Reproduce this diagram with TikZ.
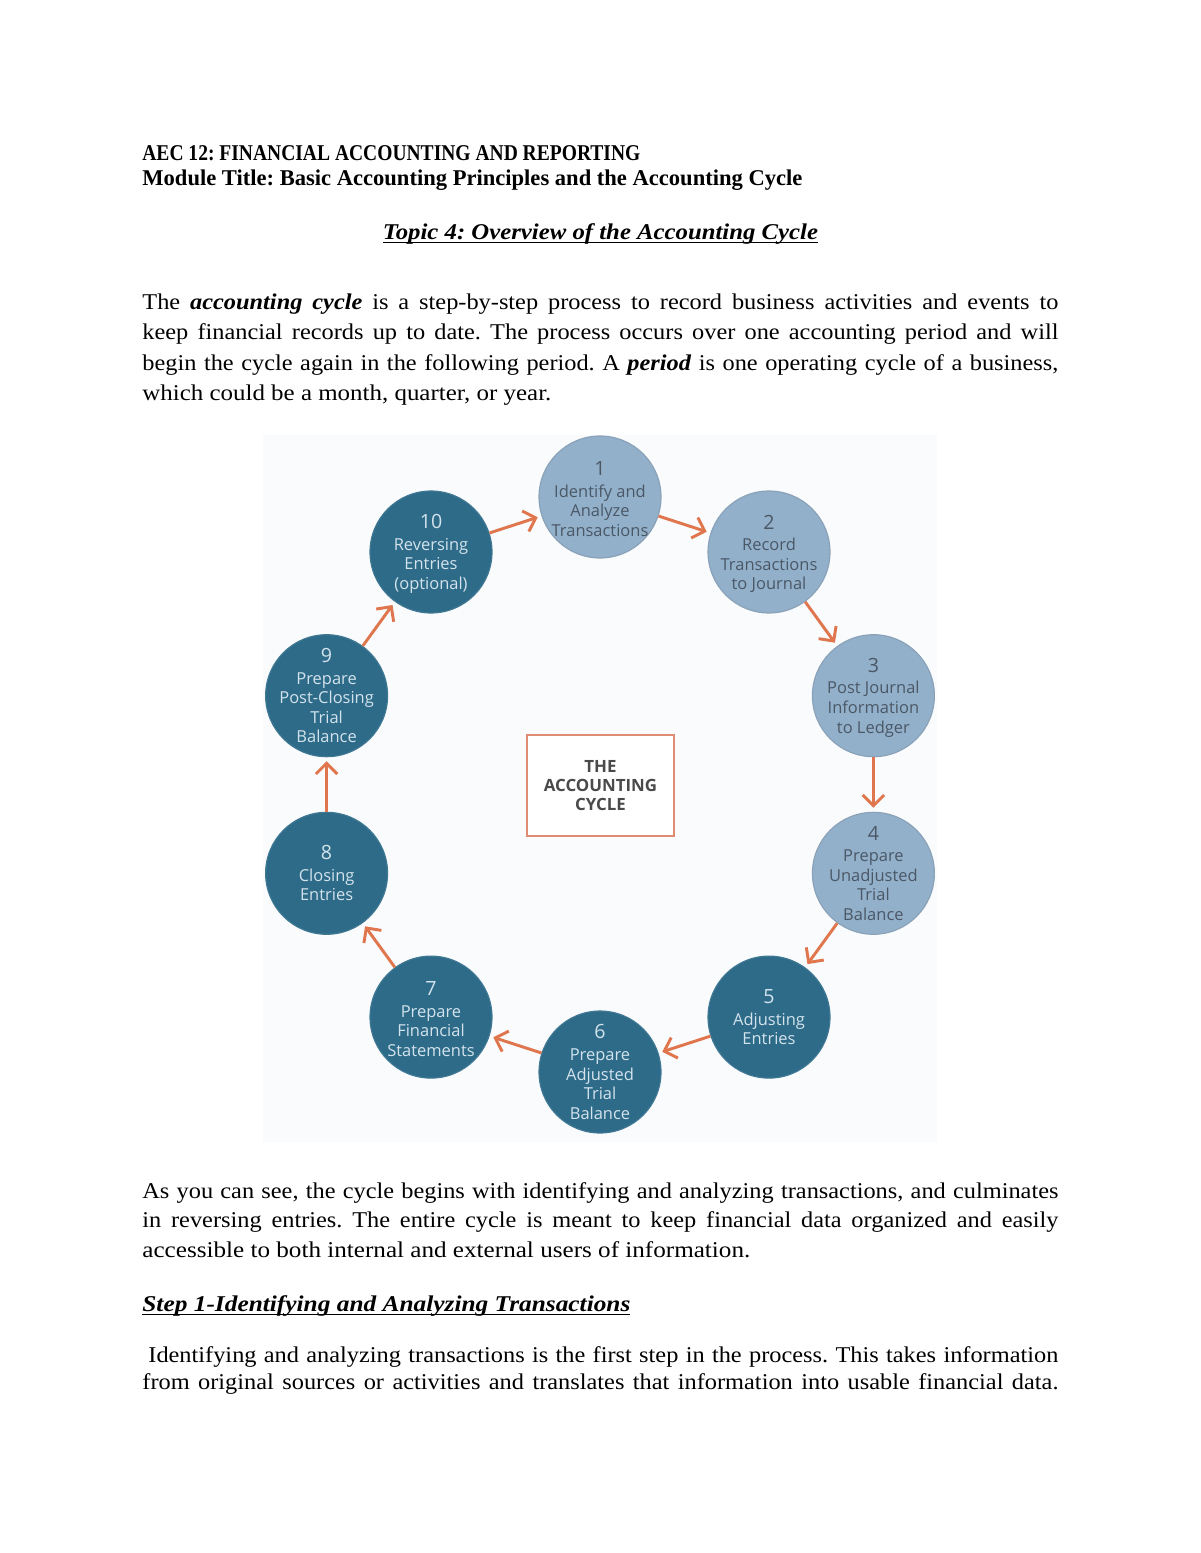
\documentclass[tikz,border=0pt]{standalone}
\usepackage{fontspec}
\setmainfont[FakeStretch=1.08]{Liberation Serif}
\newfontfamily\diagfont{Open Sans}
\usetikzlibrary{arrows.meta}
\definecolor{lightfill}{HTML}{93B0CB}
\definecolor{lightdraw}{HTML}{8AA2B8}
\definecolor{lighttext}{HTML}{4A5866}
\definecolor{darkfill}{HTML}{2E6B89}
\definecolor{darkdraw}{HTML}{3F7893}
\definecolor{darktext}{HTML}{D3E3EC}
\definecolor{arrowc}{HTML}{E0764E}
\definecolor{boxc}{HTML}{E08C72}
\definecolor{boxtext}{HTML}{4A4A4A}
\definecolor{diagbg}{HTML}{FAFBFD}
\newcommand\bodysize{\fontsize{11.5}{14}\selectfont\frenchspacing}
\newcommand\jline[1]{\makebox[467.2pt][s]{#1}}
\newcommand\fitline[2]{\resizebox{#1}{\height}{#2}}
\newcommand\myul[1]{\setbox0\hbox{#1}\rlap{\rule[-2.2pt]{\wd0}{0.7pt}}\box0}
\newcommand\num[1]{{\fontsize{10}{10}\selectfont #1}\\[1pt]}
\begin{document}
\begin{tikzpicture}[x=0.51pt,y=-0.51pt,
  txtline/.style={anchor=base west,inner sep=0pt,font=\bodysize},
  stepcircle/.style={circle,minimum size=62.2pt,inner sep=0pt,line width=0.6pt},
  lightstep/.style={stepcircle,fill=lightfill,draw=lightdraw},
  darkstep/.style={stepcircle,fill=darkfill,draw=darkdraw},
  steptext/.style={align=center,font=\diagfont\fontsize{8.4}{10}\selectfont,inner sep=0pt},
  lighttxt/.style={steptext,text=lighttext},
  darktxt/.style={steptext,text=darktext},
  flow/.style={draw=arrowc,line width=1.5pt,-{Straight Barb[length=5.5pt,width=11pt,line width=1.5pt]},shorten >=2pt}]
\useasboundingbox[fill=white] (0,0) rectangle (1200,1553);

% header
\node[txtline,font=\bodysize\bfseries] (h1) at (142,161) {\fitline{254pt}{AEC 12: FINANCIAL ACCOUNTING AND REPORTING}};
\node[txtline,font=\bodysize\bfseries] (h2) at (142,186) {\fitline{336.6pt}{Module Title: Basic Accounting Principles and the Accounting Cycle}};
\node[anchor=base,inner sep=0pt,font=\bodysize\bfseries\itshape] (topic) at (600.5,239) {\myul{\fitline{221.9pt}{Topic 4: Overview of the Accounting Cycle}}};

% paragraph 1
\node[txtline] (p1a) at (142,309) {\jline{The \textbf{\textit{accounting cycle}} is a step-by-step process to record business activities and events to}};
\node[txtline] (p1b) at (142,339) {\jline{keep financial records up to date. The process occurs over one accounting period and will}};
\node[txtline] (p1c) at (142,370) {\jline{begin the cycle again in the following period. A \textbf{\textit{period}} is one operating cycle of a business,}};
\node[txtline] (p1d) at (142,400) {\fitline{208.6pt}{which could be a month, quarter, or year.}};

% diagram background
\fill[diagbg] (263,435) rectangle (937,1142);

% steps
\node[lightstep] (s1) at (600,497) {};
\node[lightstep] (s2) at (769,552) {};
\node[lightstep] (s3) at (873.4,695.7) {};
\node[lightstep] (s4) at (873.4,873.3) {};
\node[darkstep] (s5) at (769,1017.1) {};
\node[darkstep] (s6) at (600,1072) {};
\node[darkstep] (s7) at (431,1017.1) {};
\node[darkstep] (s8) at (326.6,873.3) {};
\node[darkstep] (s9) at (326.6,695.7) {};
\node[darkstep] (s10) at (431,552) {};

\node[lighttxt] (t1) at ([yshift=-1pt]s1) {\num{1}Identify and\\Analyze\\Transactions};
\node[lighttxt] (t2) at ([yshift=-1pt]s2) {\num{2}Record\\Transactions\\to Journal};
\node[lighttxt] (t3) at ([yshift=-1pt]s3) {\num{3}Post Journal\\Information\\to Ledger};
\node[lighttxt] (t4) at (s4) {\num{4}Prepare\\Unadjusted\\Trial\\Balance};
\node[darktxt] (t5) at (s5) {\num{5}Adjusting\\Entries};
\node[darktxt] (t6) at (s6) {\num{6}Prepare\\Adjusted\\Trial\\Balance};
\node[darktxt] (t7) at ([yshift=-1pt]s7) {\num{7}Prepare\\Financial\\Statements};
\node[darktxt] (t8) at (s8) {\num{8}Closing\\Entries};
\node[darktxt] (t9) at (s9) {\num{9}Prepare\\Post-Closing\\Trial\\Balance};
\node[darktxt] (t10) at ([yshift=-1pt]s10) {\num{10}Reversing\\Entries\\(optional)};

\draw[flow] (s1) -- (s2);
\draw[flow] (s2) -- (s3);
\draw[flow] (s3) -- (s4);
\draw[flow] (s4) -- (s5);
\draw[flow] (s5) -- (s6);
\draw[flow] (s6) -- (s7);
\draw[flow] (s7) -- (s8);
\draw[flow] (s8) -- (s9);
\draw[flow] (s9) -- (s10);
\draw[flow] (s10) -- (s1);

% centre box
\node[draw=boxc,line width=1.1pt,fill=white,minimum width=75pt,minimum height=51.5pt,inner sep=0pt,
      align=center,text=boxtext,font=\diagfont\bfseries\fontsize{8.6}{9.7}\selectfont] (title) at (600.5,785.5) {THE\\ACCOUNTING\\CYCLE};

% paragraph 2
\node[txtline] (p2a) at (142,1198) {\jline{As you can see, the cycle begins with identifying and analyzing transactions, and culminates}};
\node[txtline] (p2b) at (142,1227) {\jline{in reversing entries. The entire cycle is meant to keep financial data organized and easily}};
\node[txtline] (p2c) at (142,1257) {\fitline{310pt}{accessible to both internal and external users of information.}};

\node[txtline,font=\bodysize\bfseries\itshape] (step1) at (142,1311) {\myul{\fitline{248.9pt}{Step 1-Identifying and Analyzing Transactions}}};

\node[txtline] (p3a) at (148,1362) {\makebox[464.1pt][s]{Identifying and analyzing transactions is the first step in the process. This takes information}};
\node[txtline] (p3b) at (142,1389) {\jline{from original sources or activities and translates that information into usable financial data.}};
\end{tikzpicture}
\end{document}
